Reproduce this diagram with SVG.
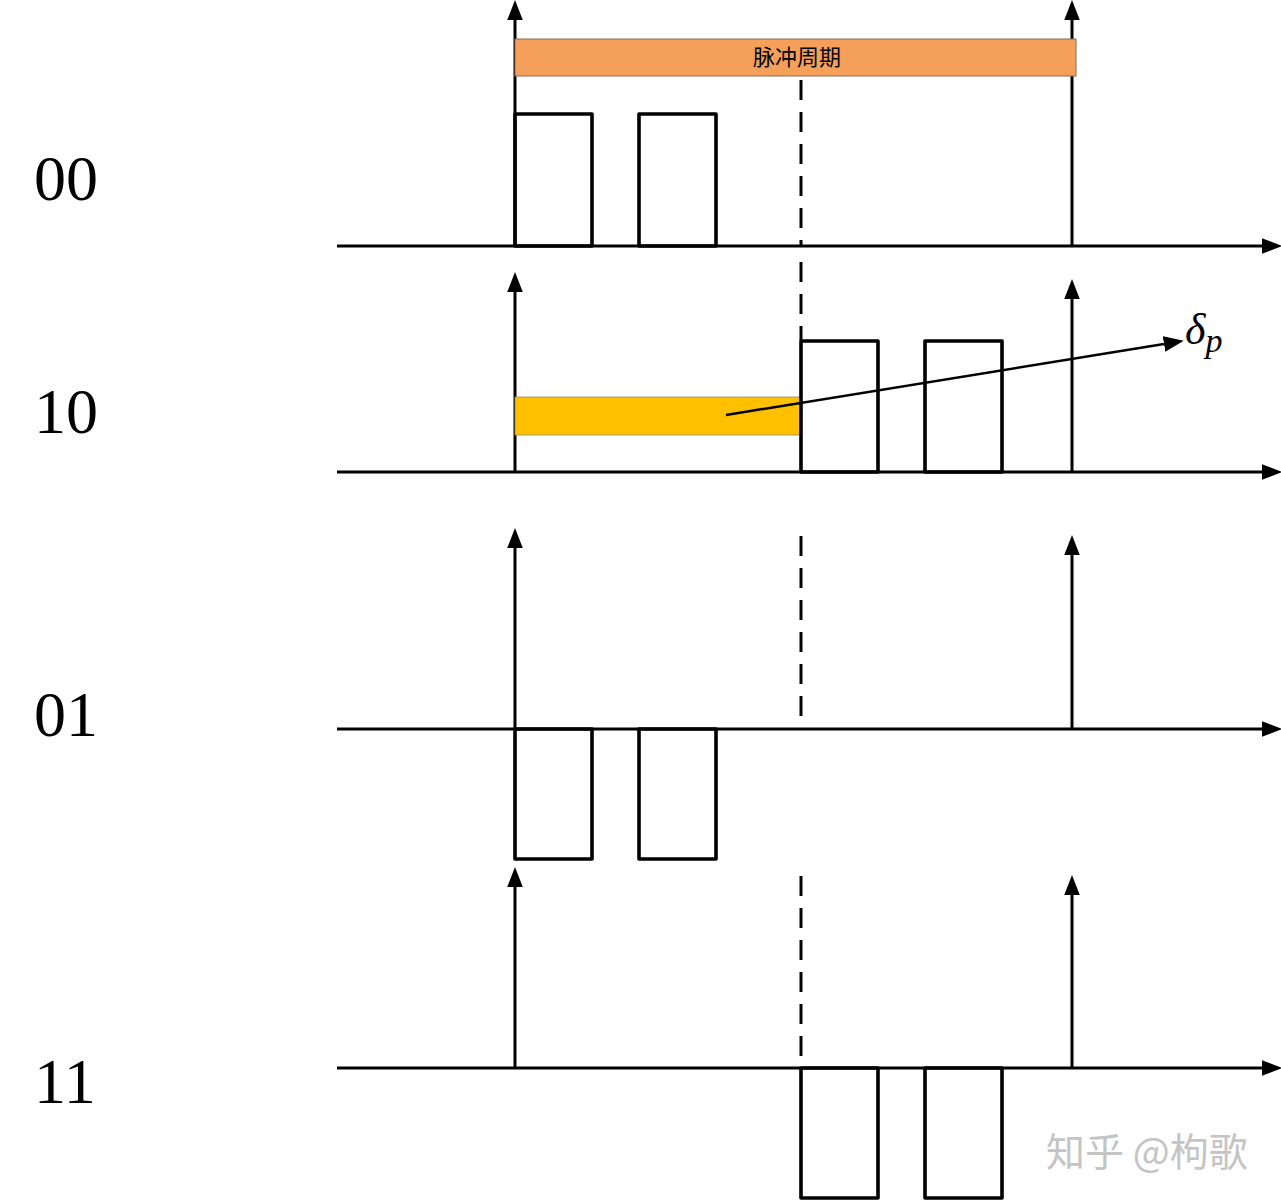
<svg xmlns="http://www.w3.org/2000/svg" width="1281" height="1202" viewBox="0 0 1281 1202">
<style>
.ax{stroke:#000;stroke-width:3;fill:none}
.dash{stroke:#000;stroke-width:3;stroke-dasharray:20 12;fill:none}
.pulse{stroke:#000;stroke-width:3.6;fill:none;stroke-linejoin:round}
.lbl{font-family:"Liberation Serif",serif;font-size:64px;fill:#000}
</style>
<defs>
<marker id="ah" markerUnits="userSpaceOnUse" markerWidth="20" markerHeight="16" refX="0" refY="7" orient="auto" viewBox="0 0 18 14">
<path d="M0,0 L18,7 L0,14 z" fill="#000"/>
</marker>
</defs>
<rect width="1281" height="1202" fill="#fff"/>
<g id="labels">
<text class="lbl" x="34" y="200">00</text>
<text class="lbl" x="34" y="433">10</text>
<text class="lbl" x="34" y="736">01</text>
<text class="lbl" x="34" y="1103">11</text>
</g>
<g id="connectors">
<line class="ax" x1="337" y1="246" x2="1262" y2="246" marker-end="url(#ah)"/>
<line class="ax" x1="337" y1="472" x2="1262" y2="472" marker-end="url(#ah)"/>
<line class="ax" x1="337" y1="729" x2="1262" y2="729" marker-end="url(#ah)"/>
<line class="ax" x1="337" y1="1068" x2="1262" y2="1068" marker-end="url(#ah)"/>
<line class="ax" x1="515" y1="246" x2="515" y2="20" marker-end="url(#ah)"/>
<line class="ax" x1="1072" y1="246" x2="1072" y2="20" marker-end="url(#ah)"/>
<line class="ax" x1="515" y1="472" x2="515" y2="292" marker-end="url(#ah)"/>
<line class="ax" x1="1072" y1="472" x2="1072" y2="299" marker-end="url(#ah)"/>
<line class="ax" x1="515" y1="729" x2="515" y2="548" marker-end="url(#ah)"/>
<line class="ax" x1="1072" y1="729" x2="1072" y2="555" marker-end="url(#ah)"/>
<line class="ax" x1="515" y1="1068" x2="515" y2="887" marker-end="url(#ah)"/>
<line class="ax" x1="1072" y1="1068" x2="1072" y2="895" marker-end="url(#ah)"/>
<line class="dash" x1="801" y1="80" x2="801" y2="246"/>
<line class="dash" x1="801" y1="262" x2="801" y2="340"/>
<line class="dash" x1="801" y1="536" x2="801" y2="729"/>
<line class="dash" x1="801" y1="876" x2="801" y2="1068"/>
</g>
<g id="period-bar">
<rect x="515" y="39" width="561" height="37" fill="#F4A05A" stroke="#8a6a50" stroke-width="1"/>
<text x="797" y="65" text-anchor="middle" font-family="'Noto Sans CJK SC',sans-serif" font-size="22" fill="#000">脉冲周期</text>
</g>
<g id="row00">
<rect class="pulse" x="515" y="114" width="77" height="132"/>
<rect class="pulse" x="639" y="114" width="77" height="132"/>
</g>
<g id="row10">
<rect x="515" y="397" width="286" height="38" fill="#FFC000" stroke="#9a8a60" stroke-width="0.8"/>
<rect class="pulse" x="801" y="341" width="77" height="131"/>
<rect class="pulse" x="925" y="341" width="77" height="131"/>
<line x1="726" y1="415" x2="1164" y2="344" stroke="#000" stroke-width="2.5" marker-end="url(#ah)"/>
<text x="1185" y="344" font-family="'Liberation Serif',serif" font-style="italic" font-size="44" fill="#000">δ<tspan font-size="34" dy="8">p</tspan></text>
</g>
<g id="row01">
<rect class="pulse" x="515" y="729" width="77" height="130"/>
<rect class="pulse" x="639" y="729" width="77" height="130"/>
</g>
<g id="row11">
<rect class="pulse" x="801" y="1068" width="77" height="130"/>
<rect class="pulse" x="925" y="1068" width="77" height="130"/>
</g>
<g id="watermark">
<text x="1046" y="1166" font-family="'Noto Sans CJK SC',sans-serif" font-size="39" fill="#c4c4c4">知乎 @枸歌</text>
</g>
</svg>
